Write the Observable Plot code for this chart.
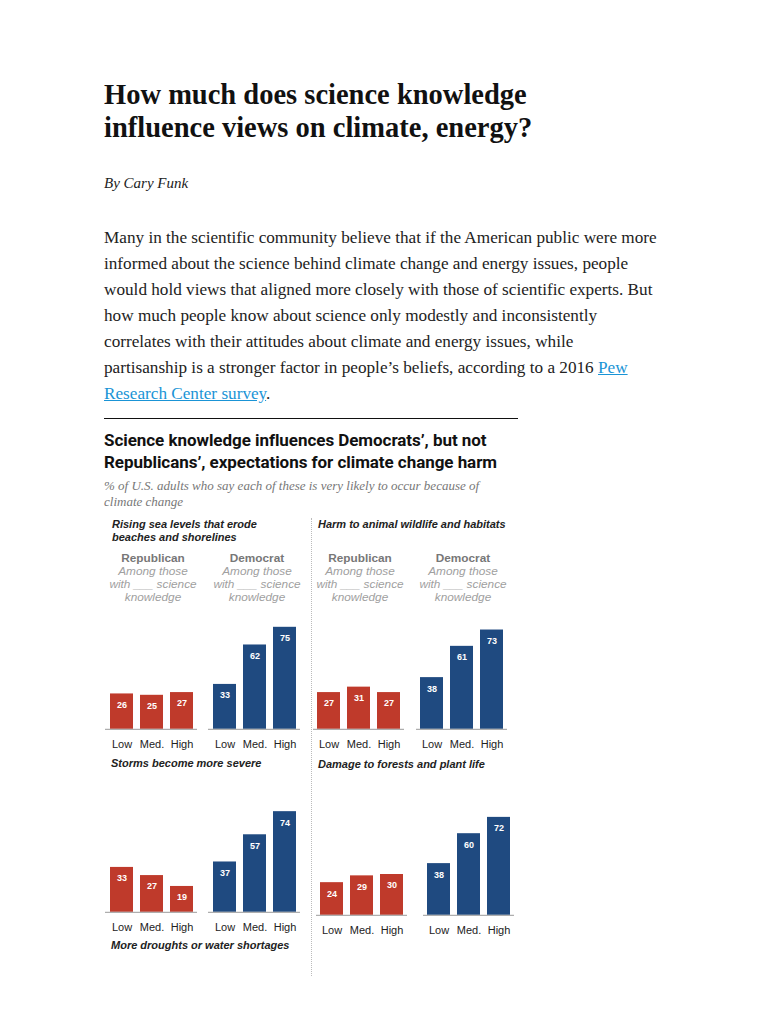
<!DOCTYPE html>
<html><head><meta charset="utf-8">
<script src="https://cdn.jsdelivr.net/npm/d3@7"></script>
<script src="https://cdn.jsdelivr.net/npm/@observablehq/plot@0.6"></script>
<style>
body{margin:0;background:#fff;}
#page{position:relative;width:768px;height:1024px;overflow:hidden;background:#fff;}
.a{position:absolute;white-space:nowrap;}
.title{left:104px;top:78px;font:bold 28.5px/33px "Liberation Serif",serif;color:#111;}
.by{left:104px;top:174px;font:italic 15px/18px "Liberation Serif",serif;color:#222;}
.para{left:104px;top:225px;font:17.2px/26px "Liberation Serif",serif;color:#222;}
.para a{color:#1a94d6;text-decoration:underline;}
.rule{left:104px;top:418px;width:414px;height:0;border-top:1px solid #111;}
.ctitle{left:104px;top:429px;font:bold 17px/22px Roboto,sans-serif;color:#111;letter-spacing:-0.05px;}
.csub{left:104px;top:478px;font:italic 13px/16px "Liberation Serif",serif;color:#777;}
.ph{font:bold italic 11px/13px "Liberation Sans",sans-serif;color:#222;letter-spacing:0px;}
.grp{text-align:center;width:120px;margin-left:-60px;font:11.8px/13px "Liberation Sans",sans-serif;}
.grp b{color:#777;font-weight:bold;}
.grp i{color:#a0a0a0;}
.sep{left:311px;top:518px;height:458px;width:0;border-left:1px dotted #bbb;}
</style></head><body><div id="page">
<div class="a title">How much does science knowledge<br>influence views on climate, energy?</div>
<div class="a by">By Cary Funk</div>
<div class="a para">Many in the scientific community believe that if the American public were more<br>informed about the science behind climate change and energy issues, people<br>would hold views that aligned more closely with those of scientific experts. But<br>how much people know about science only modestly and inconsistently<br>correlates with their attitudes about climate and energy issues, while<br>partisanship is a stronger factor in people’s beliefs, according to a 2016 <a>Pew</a><br><a>Research Center survey</a>.</div>
<div class="a rule"></div>
<div class="a ctitle">Science knowledge influences Democrats’, but not<br>Republicans’, expectations for climate change harm</div>
<div class="a csub">% of U.S. adults who say each of these is very likely to occur because of<br>climate change</div>
<div class="a sep"></div>
</div>
<script>
const levels = ["Low", "Med.", "High"];
const parties = ["Republican", "Democrat"];
const panelTitles = [
  ["Rising sea levels that erode", "beaches and shorelines"],
  ["Harm to animal wildlife and habitats"],
  ["Storms become more severe"],
  ["Damage to forests and plant life"],
  ["More droughts or water shortages"]
];
const republicanValues = [
  [26, 25, 27],
  [27, 31, 27],
  [33, 27, 19],
  [24, 29, 30]
];
const democratValues = [
  [33, 62, 75],
  [38, 61, 73],
  [37, 57, 74],
  [38, 60, 72]
];
const groupNote = ["Among those", "with ___ science", "knowledge"];

// layout (pixels) for each panel
const layout = [
  {left: 105, width: 195, pad: 0.107, baseline: 729, tx: 112, ty: 518, gx: [153, 257]},
  {left: 312, width: 196, pad: 0.115, baseline: 729, tx: 318, ty: 518, gx: [360, 463]},
  {left: 105, width: 195, pad: 0.107, baseline: 912, tx: 111, ty: 757},
  {left: 315, width: 200, pad: 0.148, baseline: 915, tx: 318, ty: 758}
];
const RED = "#bf3a2b", BLUE = "#1f4a80";
const PX_PER_UNIT = 1.36, YMAX = 80;
const page = document.getElementById("page");

layout.forEach((L, k) => {
  const data = parties.flatMap((p, i) => levels.map((l, j) => ({
    party: p, level: l, value: (i === 0 ? republicanValues : democratValues)[k][j]
  })));
  const yPx = YMAX * PX_PER_UNIT;
  const chart = Plot.plot({
    width: L.width, height: yPx + 30,
    marginTop: 0, marginBottom: 30, marginLeft: 0, marginRight: 0,
    style: {background: "transparent", fontSize: "11px", fontFamily: "'Liberation Sans', sans-serif", color: "#222", overflow: "visible"},
    facet: {data, x: "party"},
    fx: {domain: parties, axis: null, paddingInner: L.pad, paddingOuter: 0, label: null},
    x: {domain: levels, paddingInner: 0.24, paddingOuter: 0.12, tickSize: 0, tickPadding: 11, label: null},
    y: {domain: [0, YMAX], axis: null},
    color: {domain: parties, range: [RED, BLUE]},
    marks: [
      Plot.barY(data, {x: "level", y: "value", fill: "party"}),
      Plot.ruleY([0], {stroke: "#9a9a9a"}),
      Plot.text(data, {x: "level", y: "value", text: "value", dy: 11, fill: "white", fontWeight: "bold", fontSize: 9, fontFamily: "'Liberation Sans', sans-serif"})
    ]
  });
  chart.style.position = "absolute";
  chart.style.left = L.left + "px";
  chart.style.top = (L.baseline - yPx) + "px";
  page.appendChild(chart);

  const t = document.createElement("div");
  t.className = "a ph";
  t.style.left = L.tx + "px"; t.style.top = L.ty + "px";
  t.innerHTML = panelTitles[k].join("<br>");
  page.appendChild(t);

  if (L.gx) {
    parties.forEach((p, i) => {
      const g = document.createElement("div");
      g.className = "a grp";
      g.style.left = L.gx[i] + "px"; g.style.top = "552px";
      g.innerHTML = "<b>" + p + "</b><br><i>" + groupNote.join("<br>") + "</i>";
      page.appendChild(g);
    });
  }
});
// trailing panel header at the bottom
const last = document.createElement("div");
last.className = "a ph";
last.style.left = "111px"; last.style.top = "939px";
last.textContent = panelTitles[4][0];
page.appendChild(last);
</script>
</body></html>
